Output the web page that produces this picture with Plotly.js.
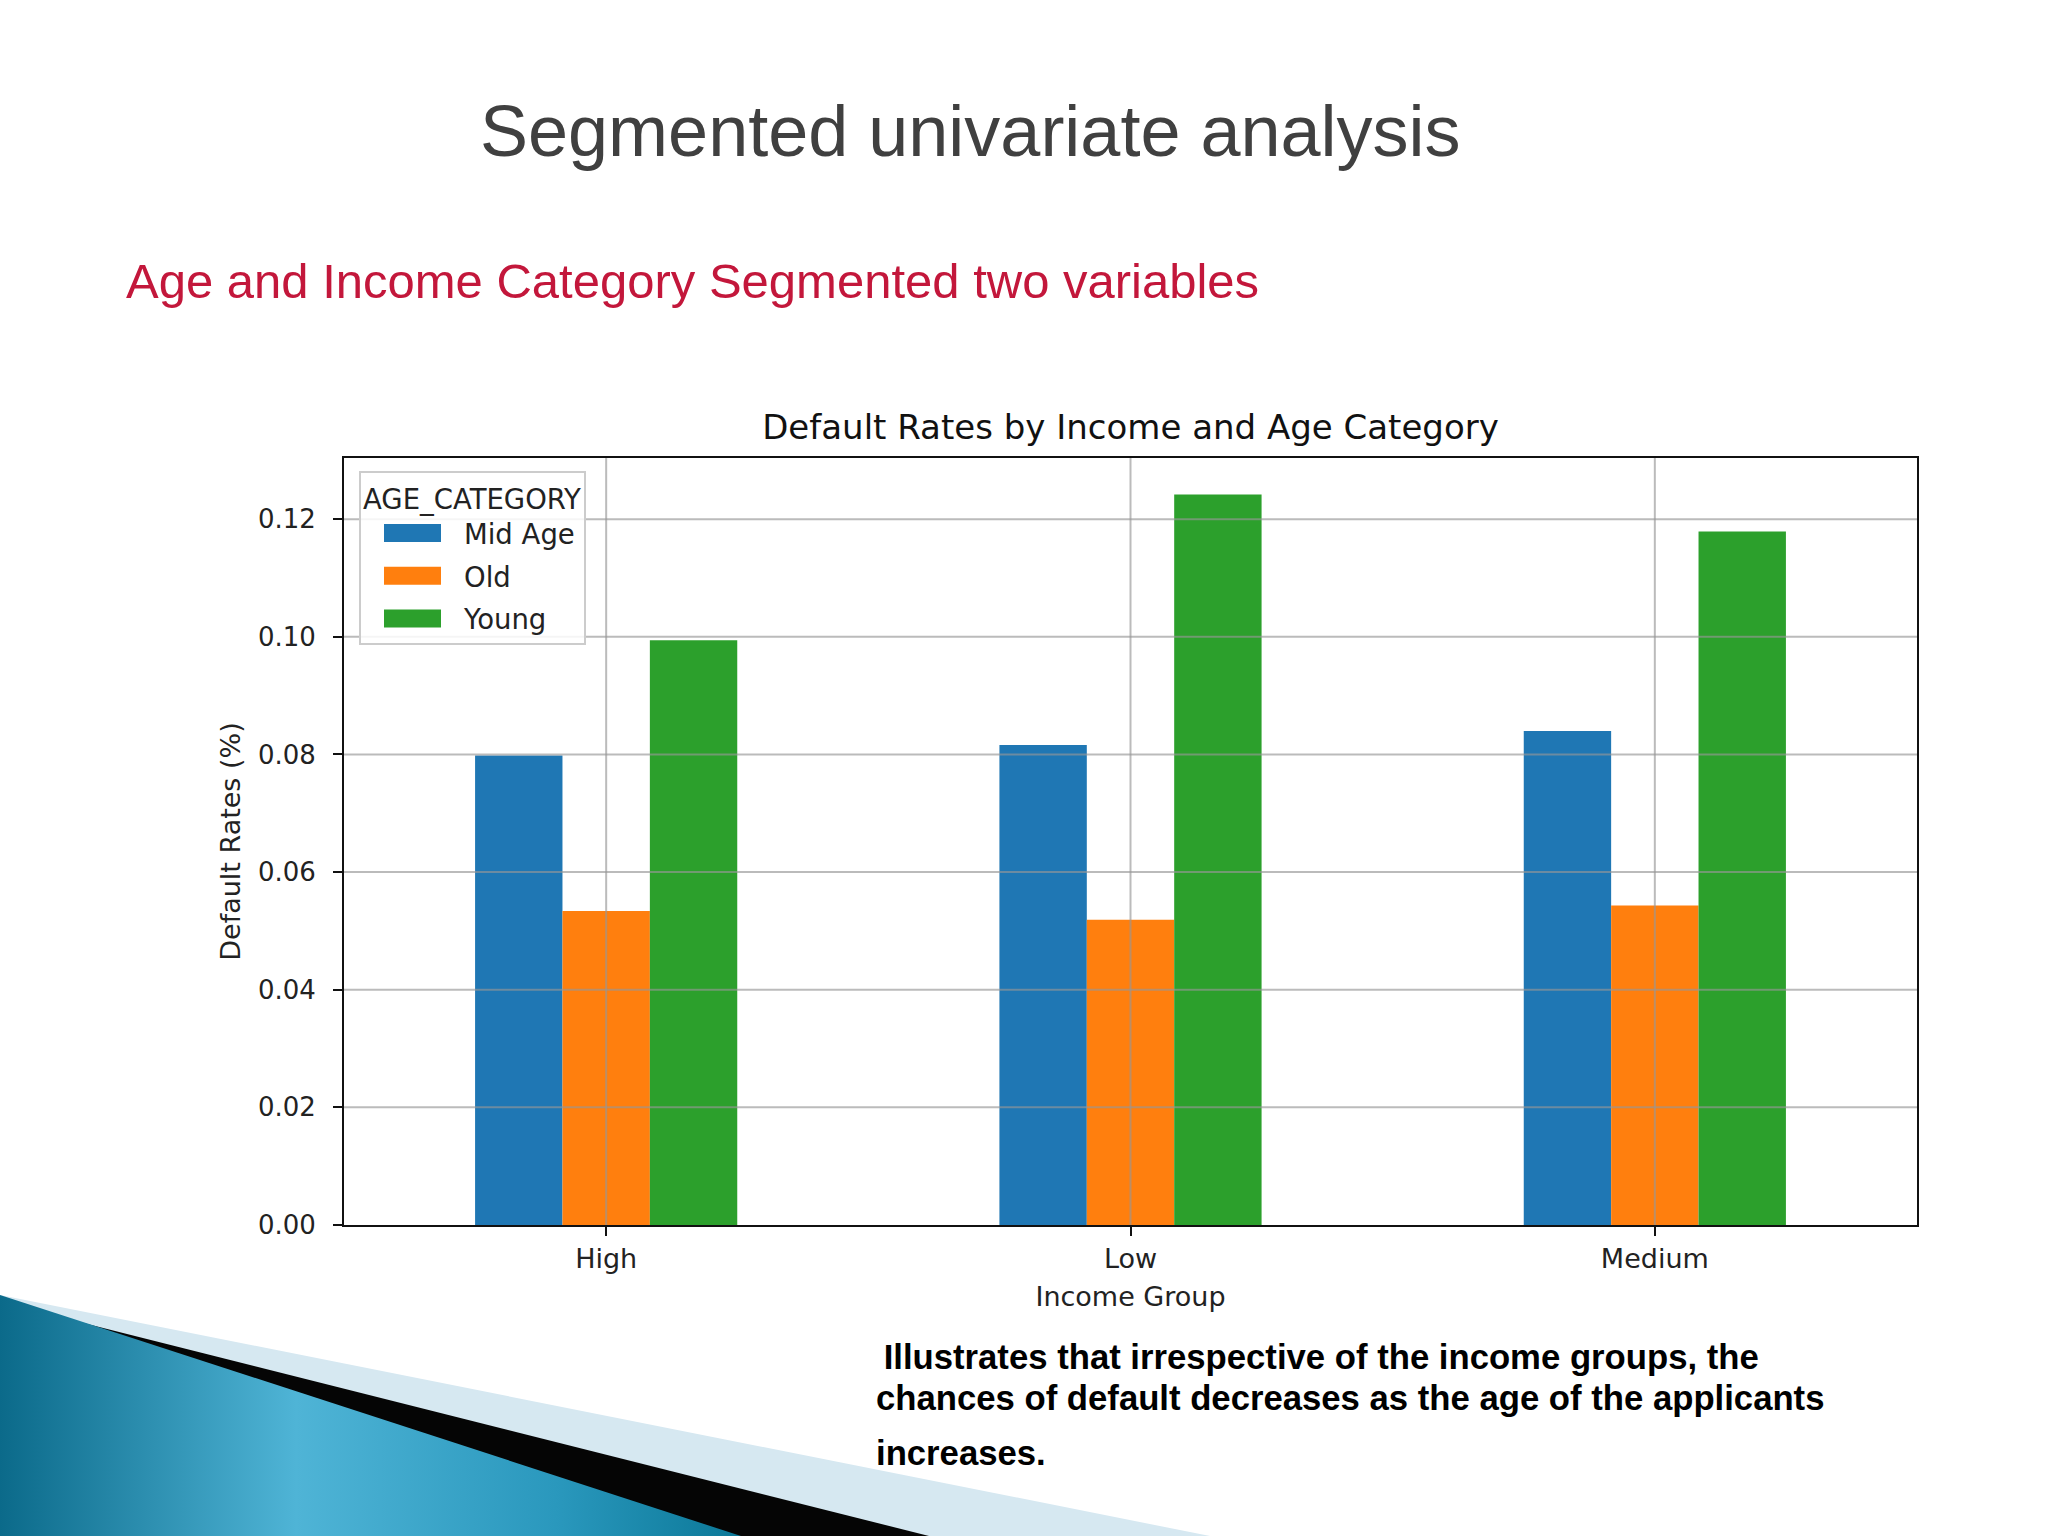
<!DOCTYPE html>
<html>
<head>
<meta charset="utf-8">
<script src="https://cdn.plot.ly/plotly-3.0.1.min.js"></script>
<style>
  html, body { margin: 0; padding: 0; background: #ffffff; }
  #wrap { position: relative; width: 2048px; height: 1536px; overflow: hidden; }
  #deco { position: absolute; left: 0; top: 0; z-index: 0; }
  #chart { position: absolute; left: 0; top: 0; width: 2048px; height: 1536px; z-index: 1; }
</style>
</head>
<body>
<div id="wrap">
  <svg id="deco" width="2048" height="1536" viewBox="0 0 2048 1536">
    <defs>
      <linearGradient id="blueGrad" x1="0" y1="0" x2="1" y2="0">
        <stop offset="0%" stop-color="#0b6a8a"/>
        <stop offset="40%" stop-color="#4fb4d6"/>
        <stop offset="75%" stop-color="#2a98bd"/>
        <stop offset="100%" stop-color="#0b7898"/>
      </linearGradient>
    </defs>
    <polygon points="0,1295 1210,1536 0,1536" fill="#d6e8f1"/>
    <polygon points="0,1302 929,1536 0,1536" fill="#050505"/>
    <polygon points="0,1295 741,1536 0,1536" fill="url(#blueGrad)"/>
  </svg>
  <div id="chart"></div>
</div>
<script>
// ---- data ----
const incomeGroups = ["High", "Low", "Medium"];
const ageCategories = ["Mid Age", "Old", "Young"];
const midAgeRates = [0.0798, 0.0816, 0.0840];
const oldRates = [0.0534, 0.0519, 0.0543];
const youngRates = [0.0994, 0.1242, 0.1179];
const yTickVals = [0.00, 0.02, 0.04, 0.06, 0.08, 0.10, 0.12];
const yTickText = ["0.00", "0.02", "0.04", "0.06", "0.08", "0.10", "0.12"];
const seriesColors = ["#1f77b4", "#ff7f0e", "#2ca02c"];

const chartTitle = "Default Rates by Income and Age Category";
const xTitle = "Income Group";
const yTitle = "Default Rates (%)";
const legendTitle = "AGE_CATEGORY";
const slideTitle = "Segmented univariate analysis";
const slideSubtitle = "Age and Income Category Segmented two variables";
const noteLines = [
  " Illustrates that irrespective of the income groups, the",
  "chances of default decreases as the age of the applicants",
  "increases."
];

const seriesValues = [midAgeRates, oldRates, youngRates];
const traces = ageCategories.map((name, i) => ({
  type: "bar",
  name: name,
  legendgroup: "g" + i,
  x: incomeGroups,
  y: seriesValues[i],
  marker: { color: seriesColors[i], line: { width: 0 } },
  hoverinfo: "x+y+name"
}));

// plot area geometry (pixels)
const W = 2048, H = 1536;
const L = 344, R = 1917, T = 458, B = 1225.5;
const px = X => (X - L) / (R - L);
const py = Y => (B - Y) / (B - T);

const dejavu = "DejaVu Sans, Verdana, sans-serif";
const slideFont = "Liberation Sans, Arial, sans-serif";

// grid lines drawn above the bars (as in the reference), built from the tick arrays
const gridColor = "rgba(150,150,150,0.65)";
const gridShapes = [];
yTickVals.slice(1).forEach(v => gridShapes.push({
  type: "line", layer: "above", xref: "paper", yref: "y",
  x0: 0, x1: 1, y0: v, y1: v, line: { color: gridColor, width: 2 }
}));
incomeGroups.forEach(c => gridShapes.push({
  type: "line", layer: "above", xref: "x", yref: "paper",
  x0: c, x1: c, y0: 0, y1: 1, line: { color: gridColor, width: 2 }
}));

const noteFont = { family: slideFont, size: 34.7, color: "#000000", weight: "bold" };
const annotations = [
  { text: slideTitle, xref: "paper", yref: "paper", x: px(970), y: py(131),
    xanchor: "center", yanchor: "middle", showarrow: false,
    font: { family: slideFont, size: 72, color: "#404040" } },
  { text: slideSubtitle, xref: "paper", yref: "paper", x: px(124), y: py(281),
    xanchor: "left", yanchor: "middle", showarrow: false,
    font: { family: slideFont, size: 49, color: "#c3173b" } },
  { text: noteLines[0], xref: "paper", yref: "paper", x: px(872), y: py(1358),
    xanchor: "left", yanchor: "middle", showarrow: false, font: noteFont },
  { text: noteLines[1], xref: "paper", yref: "paper", x: px(874), y: py(1399),
    xanchor: "left", yanchor: "middle", showarrow: false, font: noteFont },
  { text: noteLines[2], xref: "paper", yref: "paper", x: px(874), y: py(1454),
    xanchor: "left", yanchor: "middle", showarrow: false, font: noteFont }
];

const layout = {
  width: W, height: H,
  margin: { l: L, r: W - R, t: T, b: H - B, pad: 0 },
  paper_bgcolor: "rgba(0,0,0,0)",
  plot_bgcolor: "#ffffff",
  barmode: "group",
  bargap: 0.5,
  bargroupgap: 0,
  showlegend: true,
  title: {
    text: chartTitle, x: 0.5, xref: "paper", xanchor: "center",
    y: 1 - 427 / H, yref: "container", yanchor: "middle",
    font: { family: dejavu, size: 34, color: "#111111" }
  },
  xaxis: {
    type: "category",
    categoryarray: incomeGroups,
    range: [-0.5, 2.5],
    showgrid: false,
    showline: true, linecolor: "#111111", linewidth: 2, mirror: true,
    ticks: "outside", ticklen: 9, tickwidth: 2, tickcolor: "#111111",
    ticklabelstandoff: 0,
    tickfont: { family: dejavu, size: 27, color: "#222222" },
    title: { text: xTitle, standoff: 14, font: { family: dejavu, size: 27, color: "#222222" } },
    zeroline: false, fixedrange: true
  },
  yaxis: {
    range: [0, 0.1304],
    tickvals: yTickVals, ticktext: yTickText,
    showgrid: false,
    showline: true, linecolor: "#111111", linewidth: 2, mirror: true,
    ticks: "outside", ticklen: 9, tickwidth: 2, tickcolor: "#111111",
    ticklabelstandoff: 12,
    tickfont: { family: dejavu, size: 26, color: "#222222" },
    title: { text: yTitle, standoff: 9, font: { family: dejavu, size: 27, color: "#222222" } },
    zeroline: false, fixedrange: true
  },
  legend: {
    x: px(359), y: py(471), xanchor: "left", yanchor: "top",
    xref: "paper", yref: "paper",
    bgcolor: "rgba(255,255,255,0.85)",
    bordercolor: "#cccccc", borderwidth: 2,
    font: { family: dejavu, size: 27.5, color: "#222222" },
    title: { text: legendTitle, font: { family: dejavu, size: 27.5, color: "#222222" } },
    itemwidth: 93,
    tracegroupgap: 4,
    traceorder: "grouped"
  },
  shapes: gridShapes,
  annotations: annotations
};

Plotly.newPlot("chart", traces, layout, { displayModeBar: false, staticPlot: true }).then(gd => {
  // widen the legend swatches to match the reference's rectangular patches
  gd.querySelectorAll(".legend .legendpoints path").forEach(p => {
    p.setAttribute("d", "M-28.5,-9H28.5V9H-28.5Z");
  });
});
</script>
</body>
</html>
